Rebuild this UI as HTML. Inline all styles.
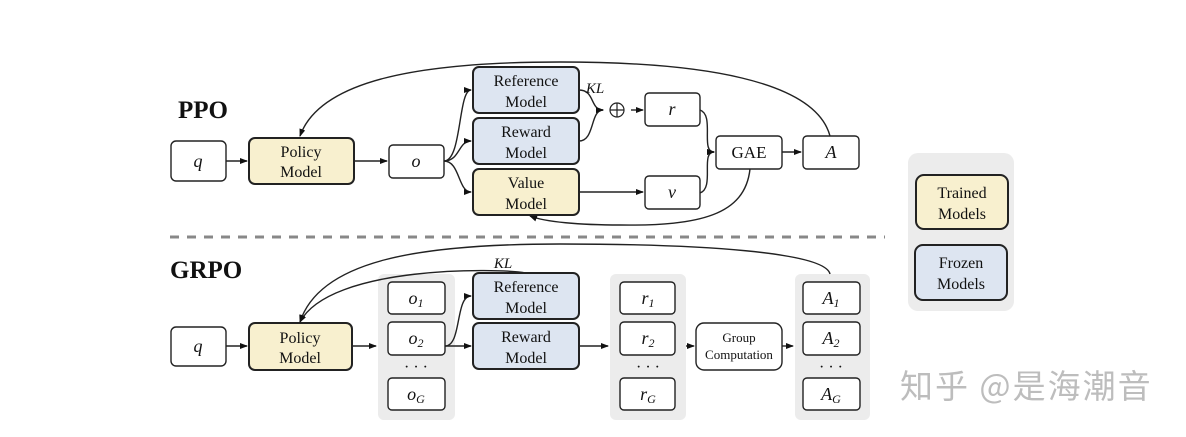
<!DOCTYPE html>
<html><head><meta charset="utf-8"><style>
body{margin:0;background:#fff}
svg text{font-family:"Liberation Serif",serif;fill:#111}
.i{font-style:italic}
</style></head><body>
<svg width="1186" height="432" viewBox="0 0 1186 432" xmlns="http://www.w3.org/2000/svg">
<defs><marker id="a" markerWidth="8" markerHeight="8" refX="7" refY="4" orient="auto" markerUnits="userSpaceOnUse"><path d="M0,1 L8,4 L0,7 Z" fill="#111"/></marker></defs>
<g stroke="#222" stroke-width="1.4" fill="none">
<rect x="171" y="141" width="55" height="40" rx="5" fill="#fff"/>
<rect x="249" y="138" width="105" height="46" rx="6" fill="#f8f0cf" stroke-width="2"/>
<rect x="389" y="145" width="55" height="33" rx="4" fill="#fff"/>
<rect x="473" y="67" width="106" height="46" rx="6" fill="#dde5f1" stroke-width="2"/>
<rect x="473" y="118" width="106" height="46" rx="6" fill="#dde5f1" stroke-width="2"/>
<rect x="473" y="169" width="106" height="46" rx="6" fill="#f8f0cf" stroke-width="2"/>
<rect x="645" y="93" width="55" height="33" rx="4" fill="#fff"/>
<rect x="645" y="176" width="55" height="33" rx="4" fill="#fff"/>
<rect x="716" y="136" width="66" height="33" rx="4" fill="#fff"/>
<rect x="803" y="136" width="56" height="33" rx="4" fill="#fff"/>
<path d="M226,161 H247" marker-end="url(#a)"/>
<path d="M354,161 H387" marker-end="url(#a)"/>
<path d="M444,161 C462,161 458,90 471,90" marker-end="url(#a)"/>
<path d="M444,161 C460,161 458,141 471,141" marker-end="url(#a)"/>
<path d="M444,161 C460,161 458,192 471,192" marker-end="url(#a)"/>
<path d="M579,90 C595,90 590,110 603,110" marker-end="url(#a)"/>
<path d="M579,141 C595,141 590,110 603,110" marker-end="url(#a)"/>
<path d="M631,110 H643" marker-end="url(#a)"/>
<path d="M579,192 H643" marker-end="url(#a)"/>
<path d="M700,110 C715,115 700,152 714,152" marker-end="url(#a)"/>
<path d="M700,193 C715,188 700,152 714,152" marker-end="url(#a)"/>
<path d="M782,152 H801" marker-end="url(#a)"/>
<path d="M830,136 C815,80 700,62 560,62 C420,62 320,80 300,136" marker-end="url(#a)"/>
<path d="M750,169 C745,215 700,226 620,225 C580,225 545,222 530,216" marker-end="url(#a)"/>
<circle cx="617" cy="110" r="7" stroke-width="1.2"/>
<path d="M610,110 H624 M617,103 V117" stroke-width="1.2"/>
</g>
<line x1="170" y1="237" x2="885" y2="237" stroke="#888" stroke-width="3" stroke-dasharray="9,8"/>
<rect x="908" y="153" width="106" height="158" rx="10" fill="#ececec"/>
<rect x="916" y="175" width="92" height="54" rx="8" fill="#f8f0cf" stroke="#222" stroke-width="2"/>
<rect x="915" y="245" width="92" height="55" rx="8" fill="#dde5f1" stroke="#222" stroke-width="2"/>
<rect x="378" y="274" width="77" height="146" rx="6" fill="#ececec"/>
<rect x="610" y="274" width="76" height="146" rx="6" fill="#ececec"/>
<rect x="795" y="274" width="75" height="146" rx="6" fill="#ececec"/>
<g stroke="#222" stroke-width="1.4" fill="none">
<rect x="171" y="327" width="55" height="39" rx="5" fill="#fff"/>
<rect x="249" y="323" width="103" height="47" rx="6" fill="#f8f0cf" stroke-width="2"/>
<rect x="388" y="282" width="57" height="32" rx="4" fill="#fff"/>
<rect x="388" y="322" width="57" height="33" rx="4" fill="#fff"/>
<rect x="388" y="378" width="57" height="32" rx="4" fill="#fff"/>
<rect x="473" y="273" width="106" height="46" rx="6" fill="#dde5f1" stroke-width="2"/>
<rect x="473" y="323" width="106" height="46" rx="6" fill="#dde5f1" stroke-width="2"/>
<rect x="620" y="282" width="55" height="32" rx="4" fill="#fff"/>
<rect x="620" y="322" width="55" height="33" rx="4" fill="#fff"/>
<rect x="620" y="378" width="55" height="32" rx="4" fill="#fff"/>
<rect x="696" y="323" width="86" height="47" rx="8" fill="#fff"/>
<rect x="803" y="282" width="57" height="32" rx="4" fill="#fff"/>
<rect x="803" y="322" width="57" height="33" rx="4" fill="#fff"/>
<rect x="803" y="378" width="57" height="32" rx="4" fill="#fff"/>
<path d="M226,346 H247" marker-end="url(#a)"/>
<path d="M352,346 H376" marker-end="url(#a)"/>
<path d="M445,346 C462,346 455,296 471,296" marker-end="url(#a)"/>
<path d="M445,346 H471" marker-end="url(#a)"/>
<path d="M579,346 H608" marker-end="url(#a)"/>
<path d="M686,346 H694" marker-end="url(#a)"/>
<path d="M782,346 H793" marker-end="url(#a)"/>
<path d="M526,273 C500,268 330,265 300,322" marker-end="url(#a)"/>
<path d="M830,274 C825,252 700,244 560,244 C420,244 320,260 300,322" marker-end="url(#a)"/>
</g>
<text x="178" y="118" font-size="25" font-weight="bold">PPO</text>
<text x="170" y="278" font-size="25" font-weight="bold">GRPO</text>
<g font-size="16" text-anchor="middle">
<text x="198" y="167" class="i" font-size="18">q</text>
<text x="301" y="157">Policy</text><text x="301" y="177">Model</text>
<text x="416" y="167" class="i" font-size="18">o</text>
<text x="526" y="86">Reference</text><text x="526" y="107">Model</text>
<text x="526" y="137">Reward</text><text x="526" y="158">Model</text>
<text x="526" y="188">Value</text><text x="526" y="209">Model</text>
<text x="595" y="93" class="i" font-size="15">KL</text>
<text x="672" y="115" class="i" font-size="18">r</text>
<text x="672" y="198" class="i" font-size="18">v</text>
<text x="749" y="158" font-size="17">GAE</text>
<text x="831" y="158" class="i" font-size="18">A</text>
<text x="962" y="198">Trained</text><text x="962" y="219">Models</text>
<text x="961" y="268">Frozen</text><text x="961" y="289">Models</text>
<text x="198" y="352" class="i" font-size="18">q</text>
<text x="300" y="343">Policy</text><text x="300" y="363">Model</text>
<text x="416" y="304" class="i" font-size="18">o<tspan font-size="12" dy="3">1</tspan></text>
<text x="416" y="344" class="i" font-size="18">o<tspan font-size="12" dy="3">2</tspan></text>
<text x="416" y="372">· · ·</text>
<text x="416" y="400" class="i" font-size="18">o<tspan font-size="12" dy="3">G</tspan></text>
<text x="503" y="268" class="i" font-size="15">KL</text>
<text x="526" y="292">Reference</text><text x="526" y="313">Model</text>
<text x="526" y="342">Reward</text><text x="526" y="363">Model</text>
<text x="648" y="304" class="i" font-size="18">r<tspan font-size="12" dy="3">1</tspan></text>
<text x="648" y="344" class="i" font-size="18">r<tspan font-size="12" dy="3">2</tspan></text>
<text x="648" y="372">· · ·</text>
<text x="648" y="400" class="i" font-size="18">r<tspan font-size="12" dy="3">G</tspan></text>
<text x="739" y="342" font-size="13">Group</text><text x="739" y="359" font-size="13">Computation</text>
<text x="831" y="304" class="i" font-size="18">A<tspan font-size="12" dy="3">1</tspan></text>
<text x="831" y="344" class="i" font-size="18">A<tspan font-size="12" dy="3">2</tspan></text>
<text x="831" y="372">· · ·</text>
<text x="831" y="400" class="i" font-size="18">A<tspan font-size="12" dy="3">G</tspan></text>
</g>
<text x="900" y="398" font-size="33" letter-spacing="2" style="font-family:'Noto Sans CJK SC',sans-serif;fill:#bdbdbd">知乎 @是海潮音</text>
</svg>
</body></html>
